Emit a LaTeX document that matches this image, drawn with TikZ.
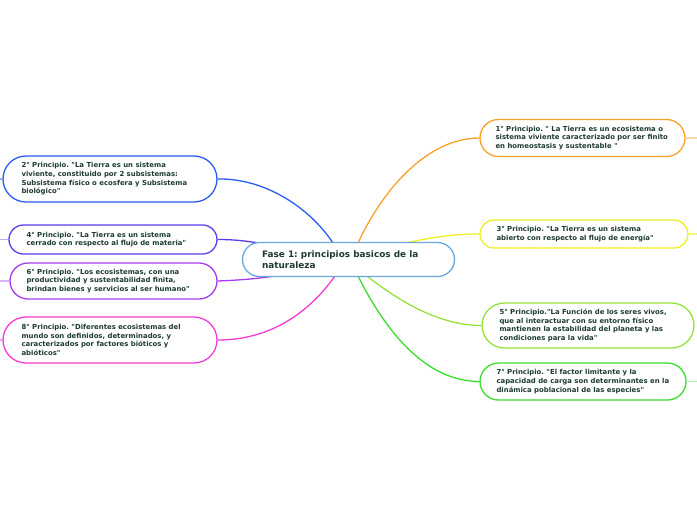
\documentclass[tikz,border=0pt]{standalone}
\usepackage{fontspec}
\newfontfamily\labfont{DejaVu Sans}
\usetikzlibrary{shapes.misc,calc}
\frenchspacing
\definecolor{txt}{HTML}{1E3B2E}
\definecolor{cCen}{HTML}{6AA8DC}
\definecolor{cOne}{HTML}{F8A22C}
\definecolor{cThree}{HTML}{EEEE22}
\definecolor{cFive}{HTML}{95E33A}
\definecolor{cSeven}{HTML}{3ADE2A}
\definecolor{cTwo}{HTML}{2A5CF2}
\definecolor{cFour}{HTML}{5A3CEE}
\definecolor{cSix}{HTML}{A63CEE}
\definecolor{cEight}{HTML}{F43CD6}
\tikzset{
  pill/.style={rounded rectangle, draw=#1, line width=1.3pt, fill=white, inner sep=0pt},
  label/.style={anchor=west, align=left, inner sep=0pt, text=txt,
    font=\labfont\fontsize{6.9pt}{8.6pt}\selectfont\bfseries\frenchspacing},
  centerlabel/.style={anchor=west, align=left, inner sep=0pt, text=txt,
    font=\labfont\fontsize{8.9pt}{11.5pt}\selectfont\bfseries\frenchspacing},
  link/.style={draw=#1, line width=1.3pt},
  tail/.style={draw=#1, line width=1.3pt}
}
\begin{document}
\begin{tikzpicture}[x=1pt,y=-1pt]
\useasboundingbox (0,0) rectangle (697,520);
\coordinate (pTwo) at (333,243);
\coordinate (pFour) at (263,243.5);
\coordinate (pSix) at (278,275.5);
\coordinate (pEight) at (335,276);
\coordinate (pOne) at (358,243);
\coordinate (pThree) at (405,243);
\coordinate (pFive) at (367,276);
\coordinate (pSeven) at (358,276);

% boxes
\node[pill=cOne, minimum width=205pt, minimum height=37pt] (b1) at (582.5,138) {};
\node[pill=cThree, minimum width=208pt, minimum height=28pt] (b3) at (584,234) {};
\node[pill=cFive, minimum width=212pt, minimum height=45pt] (b5) at (588,325.5) {};
\node[pill=cSeven, minimum width=206pt, minimum height=37pt] (b7) at (583,381.5) {};
\node[pill=cTwo, minimum width=214pt, minimum height=46pt] (b2) at (110,179) {};
\node[pill=cFour, minimum width=208pt, minimum height=29pt] (b4) at (113,239.5) {};
\node[pill=cSix, minimum width=207pt, minimum height=36pt] (b6) at (113.5,281) {};
\node[pill=cEight, minimum width=214pt, minimum height=46pt] (b8) at (110,340) {};

% connectors
\draw[link=cTwo] (b2.east) .. controls (265,178) and (310,208) .. (pTwo);
\draw[link=cFour] (b4.east) .. controls (240,239.5) and (250,242) .. (pFour);
\draw[link=cSix] (b6.east) .. controls (245,280) and (262,278) .. (pSix);
\draw[link=cEight] (b8.east) .. controls (265,340) and (305,318) .. (pEight);
\draw[link=cOne] (pOne) .. controls (385,185) and (430,138) .. (b1.west);
\draw[link=cThree] (pThree) .. controls (430,238) and (450,234) .. (b3.west);
\draw[link=cFive] (pFive) .. controls (400,302) and (440,325.5) .. (b5.west);
\draw[link=cSeven] (pSeven) .. controls (385,330) and (425,381.5) .. (b7.west);

\node[pill=cCen, minimum width=212pt, minimum height=34pt] (bc) at (348.5,259.5) {};
\node[centerlabel] (tc) at ($(bc.west)+(20,0)$) {Fase 1: principios basicos de la\\naturaleza};

% tails
\coordinate (x1) at (697,138);
\coordinate (x3) at (697,234);
\coordinate (x7) at (697,381.5);
\coordinate (x2) at (0,179);
\coordinate (x4) at (0,239.5);
\coordinate (x6) at (0,281);
\coordinate (x8) at (0,340);
\draw[tail=cOne!40] (b1.east) -- (x1);
\draw[tail=cThree!60] (b3.east) -- (x3);
\draw[tail=cSeven!40] (b7.east) -- (x7);
\draw[tail=cTwo!50] (b2.west) -- (x2);
\draw[tail=cFour!40] (b4.west) -- (x4);
\draw[tail=cSix!40] (b6.west) -- (x6);
\draw[tail=cEight!50] (b8.west) -- (x8);

% labels
\node[label] (t1) at ($(b1.west)+(16,0)$) {1° Principio. " La Tierra es un ecosistema o\\sistema viviente caracterizado por ser finito\\en homeostasis y sustentable "};
\node[label] (t3) at ($(b3.west)+(17,0)$) {3° Principio. "La Tierra es un sistema\\abierto con respecto al flujo de energía"};
\node[label] (t5) at ($(b5.west)+(18,0)$) {5° Principio."La Función de los seres vivos,\\que al interactuar con su entorno físico\\mantienen la estabilidad del planeta y las\\condiciones para la vida"};
\node[label] (t7) at ($(b7.west)+(17,0)$) {7° Principio. "El factor limitante y la\\capacidad de carga son determinantes en la\\dinámica poblacional de las especies"};
\node[label] (t2) at ($(b2.west)+(19,0)$) {2° Principio. "La Tierra es un sistema\\viviente, constituido por 2 subsistemas:\\Subsistema físico o ecosfera y Subsistema\\biológico"};
\node[label] (t4) at ($(b4.west)+(18,0)$) {4° Principio. "La Tierra es un sistema\\cerrado con respecto al flujo de materia"};
\node[label] (t6) at ($(b6.west)+(17,0)$) {6° Principio. "Los ecosistemas, con una\\productividad y sustentabilidad finita,\\brindan bienes y servicios al ser humano"};
\node[label] (t8) at ($(b8.west)+(19,0)$) {8° Principio. "Diferentes ecosistemas del\\mundo son definidos, determinados, y\\caracterizados por factores bióticos y\\abióticos"};
\end{tikzpicture}
\end{document}
